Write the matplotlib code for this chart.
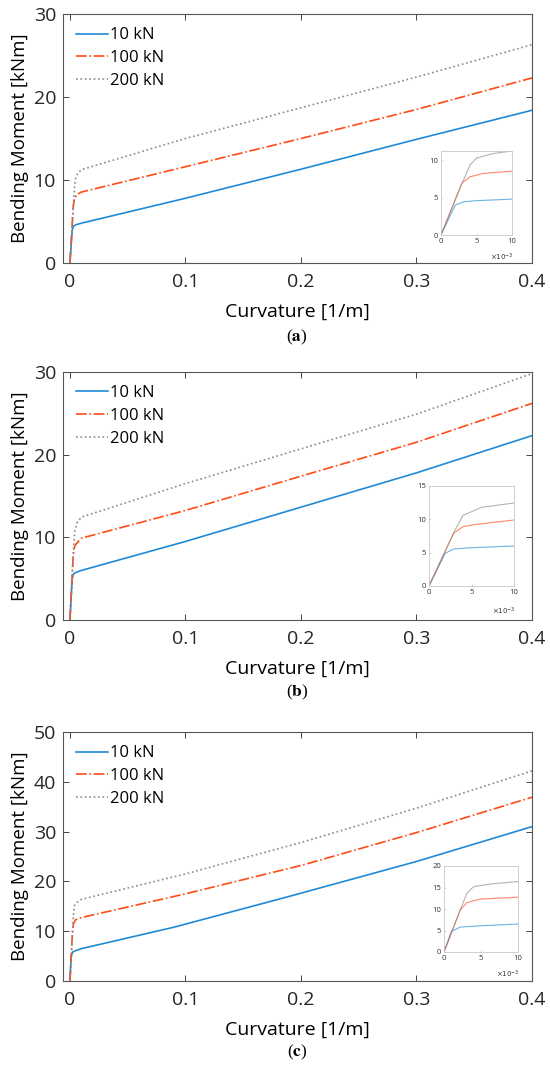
import matplotlib
matplotlib.use("Agg")
from matplotlib import pyplot as plt

plt.rcParams["font.family"] = ["Open Sans", "DejaVu Sans"]

labels = ["10 kN", "100 kN", "200 kN"]

# panel (a)
a_10_x = [0, 0.002, 0.0032, 0.005, 0.01, 0.1, 0.2, 0.3, 0.4]
a_10_y = [0, 4.0, 4.45, 4.6, 4.8, 7.8, 11.3, 14.9, 18.4]
a_100_x = [0, 0.0029, 0.0041, 0.006, 0.01, 0.1, 0.2, 0.3, 0.4]
a_100_y = [0, 6.9, 7.8, 8.25, 8.55, 11.6, 15.0, 18.5, 22.3]
a_200_x = [0, 0.003, 0.0041, 0.005, 0.0073, 0.01, 0.1, 0.2, 0.3, 0.4]
a_200_y = [0, 7.0, 9.4, 10.3, 10.9, 11.25, 15.0, 18.7, 22.4, 26.3]

# panel (b)
b_10_x = [0, 0.0019, 0.0029, 0.005, 0.01, 0.1, 0.2, 0.3, 0.4]
b_10_y = [0, 4.9, 5.55, 5.75, 6.0, 9.5, 13.65, 17.8, 22.3]
b_100_x = [0, 0.0029, 0.004, 0.0056, 0.01, 0.1, 0.2, 0.3, 0.4]
b_100_y = [0, 7.9, 8.9, 9.25, 9.9, 13.25, 17.4, 21.5, 26.2]
b_200_x = [0, 0.0029, 0.004, 0.0062, 0.01, 0.1, 0.2, 0.3, 0.4]
b_200_y = [0, 8.0, 10.6, 11.8, 12.45, 16.5, 20.7, 24.9, 29.8]

# panel (c)
c_10_x = [0, 0.001, 0.0022, 0.005, 0.01, 0.09, 0.19, 0.3, 0.4]
c_10_y = [0, 4.8, 5.8, 6.1, 6.5, 10.8, 17.0, 24.0, 31.0]
c_100_x = [0, 0.0022, 0.0031, 0.0049, 0.01, 0.1, 0.2, 0.3, 0.4]
c_100_y = [0, 9.8, 11.5, 12.3, 12.75, 17.5, 23.2, 29.8, 36.9]
c_200_x = [0, 0.0022, 0.0031, 0.004, 0.0062, 0.01, 0.1, 0.2, 0.3, 0.4]
c_200_y = [0, 9.8, 13.7, 15.2, 15.8, 16.4, 21.5, 27.8, 34.7, 42.2]

colors = ["#1f8ad6", "#ff4a14", "#8a8a8a"]
styles = ["-", "-.", ":"]

W, H = 550, 1068
fig = plt.figure(figsize=(W / 100, H / 100), dpi=100)


def box(l, t, r, b):
    return [l / W, 1 - b / H, (r - l) / W, (b - t) / H]


def panel(rect, inset_rect, series, ymax, yticks, inset_ymax, inset_yticks, tag, tag_y):
    ax = fig.add_axes(box(*rect))
    for (x, y), c, ls, lab in zip(series, colors, styles, labels):
        ax.plot(x, y, color=c, ls=ls, lw=1.2, label=lab)
    ax.set_xlim(-0.006, 0.4)
    ax.set_ylim(0, ymax)
    ax.set_xticks([0, 0.1, 0.2, 0.3, 0.4])
    ax.set_xticklabels(["0", "0.1", "0.2", "0.3", "0.4"])
    ax.set_yticks(yticks)
    ax.tick_params(direction="in", top=True, right=True, labelsize=14,
                   length=4, width=0.6, colors="#262626", pad=5)
    ax.tick_params(axis="x", pad=7)
    for s in ax.spines.values():
        s.set_color("#555555")
        s.set_linewidth(0.8)
    ax.set_xlabel("Curvature [1/m]", fontsize=14, labelpad=9)
    ax.set_ylabel("Bending Moment [kNm]", fontsize=13.5, labelpad=3)
    ax.legend(loc="upper left", frameon=False, fontsize=12, handlelength=1.9,
              handletextpad=0.15, labelspacing=0.4, borderaxespad=0.4)
    fig.text(297 / W, 1 - tag_y / H, "(" + r"$\mathbf{" + tag + "}$" + ")",
             ha="center", va="center", fontsize=12.5,
             family="Liberation Serif", math_fontfamily="stix")

    ins = fig.add_axes(box(*inset_rect))
    for (x, y), c in zip(series, colors):
        ins.plot(x, y, color=c, lw=0.8, alpha=0.65)
    ins.set_xlim(0, 0.01)
    ins.set_ylim(0, inset_ymax)
    ins.set_xticks([0, 0.005, 0.01])
    ins.set_xticklabels(["0", "5", "10"])
    ins.set_yticks(inset_yticks)
    ins.tick_params(direction="in", labelsize=5.5, length=1.5, width=0.4,
                    colors="#bbbbbb", labelcolor="#333333", pad=2)
    for s in ins.spines.values():
        s.set_color("#c8c8c8")
        s.set_linewidth(0.6)
    ins.text(1.02, -0.2, r"$\times10^{-3}$", transform=ins.transAxes,
             ha="right", va="top", fontsize=5, color="#333333")


panel((63, 14, 532, 263), (441, 151, 512, 235),
      [(a_10_x, a_10_y), (a_100_x, a_100_y), (a_200_x, a_200_y)],
      30, [0, 10, 20, 30], 11.25, [0, 5, 10], "a", 337)
panel((63, 372, 532, 620), (429, 486, 514, 586),
      [(b_10_x, b_10_y), (b_100_x, b_100_y), (b_200_x, b_200_y)],
      30, [0, 10, 20, 30], 15, [0, 5, 10, 15], "b", 692)
panel((63, 732, 532, 981), (444, 866, 518, 952),
      [(c_10_x, c_10_y), (c_100_x, c_100_y), (c_200_x, c_200_y)],
      50, [0, 10, 20, 30, 40, 50], 20, [0, 5, 10, 15, 20], "c", 1052)

fig.savefig("out.png", dpi=100)
